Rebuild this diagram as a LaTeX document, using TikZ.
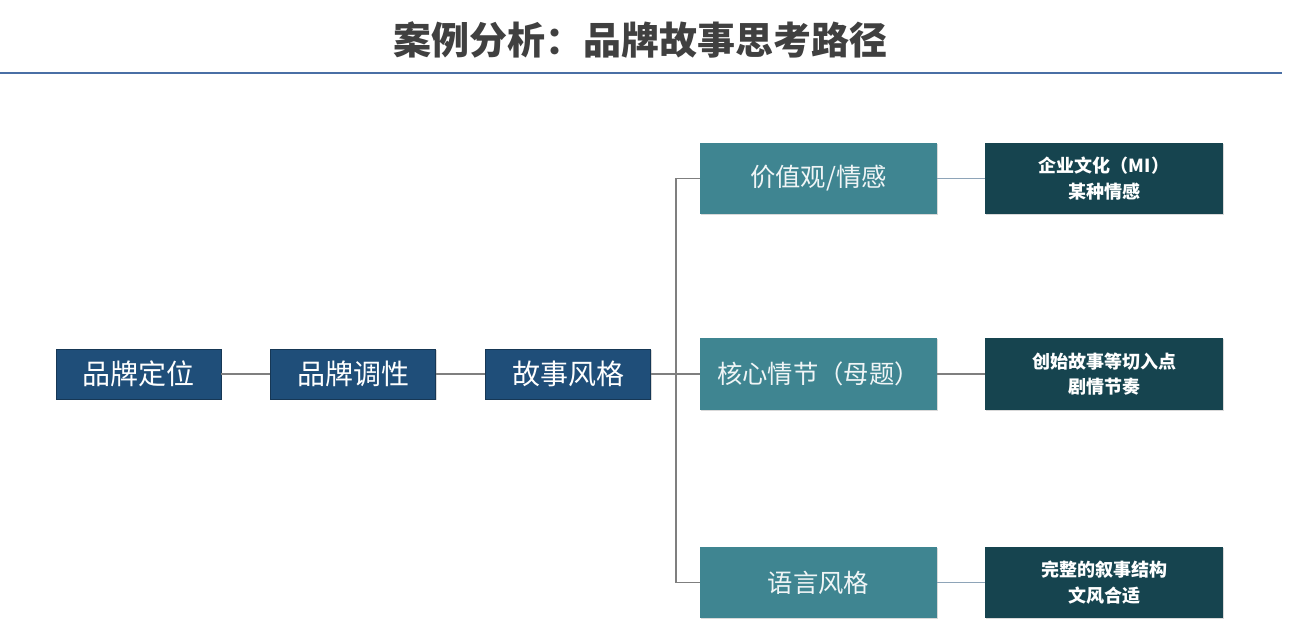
\documentclass[tikz,border=0pt]{standalone}
\usepackage{fontspec}
\setmainfont{Noto Sans CJK SC}
\usetikzlibrary{shadows}
\definecolor{navy}{HTML}{1F4E79}
\definecolor{tealm}{HTML}{3F8591}
\definecolor{tealdk}{HTML}{16444F}
\definecolor{rulec}{HTML}{4A6FA5}
\definecolor{linec}{HTML}{7F7F7F}
\definecolor{linebl}{HTML}{8EA4B8}
\definecolor{titlec}{HTML}{404040}
\tikzset{
  navybox/.style={draw=navy!70!black, line width=0.6pt, fill=navy, text=white, minimum width=123.75pt, minimum height=37.5pt, inner sep=0pt, font=\fontsize{21}{24}\selectfont, drop shadow={shadow xshift=0.8pt, shadow yshift=-0.8pt, opacity=0.3}},
  midbox/.style={fill=tealm, text=white!92!tealm, minimum width=177.75pt, minimum height=53.5pt, inner sep=0pt, font=\fontsize{19}{22}\selectfont, drop shadow={shadow xshift=0.8pt, shadow yshift=-0.8pt, opacity=0.3}},
  rbox/.style={fill=tealdk, text=white, minimum width=178.5pt, minimum height=53.5pt, inner sep=0pt, align=center, font=\bfseries\fontsize{13.5}{19}\selectfont, drop shadow={shadow xshift=0.8pt, shadow yshift=-0.8pt, opacity=0.3}},
  conn/.style={draw=linec, line width=1.1pt},
  connb/.style={draw=linebl, line width=1.1pt}
}
\begin{document}
\begin{tikzpicture}[x=0.75pt,y=-0.75pt]
\useasboundingbox (0,0) rectangle (1290,636);
\node[text=titlec, font=\bfseries\fontsize{28.5}{32}\selectfont] (title) at (640,40) {案例分析：品牌故事思考路径};
\coordinate (rl) at (0,73);
\coordinate (rr) at (1282,73);
\draw[rulec, line width=2.2pt] (rl) -- (rr);

\node[navybox] (a) at (138.5,374) {品牌定位};
\node[navybox] (b) at (353,374) {品牌调性};
\node[navybox] (c) at (568,374) {故事风格};

\node[midbox] (m1) at (818.5,178.5) {价值观/情感};
\node[midbox] (m2) at (818.5,374) {核心情节（母题）};
\node[midbox] (m3) at (818.5,582.5) {语言风格};

\node[rbox] (r1) at (1104,178.5) {企业文化（MI）\\某种情感};
\node[rbox] (r2) at (1104,374) {创始故事等切入点\\剧情节奏};
\node[rbox] (r3) at (1104,582.5) {完整的叙事结构\\文风合适};

\coordinate (v) at (676,374);
\draw[conn] (a) -- (b);
\draw[conn] (b) -- (c);
\draw[conn] (c) -- (m2);
\draw[conn] (m1.west) -- (v |- m1) -- (v |- m3) -- (m3.west);
\draw[connb] (m1) -- (r1);
\draw[conn] (m2) -- (r2);
\draw[connb] (m3) -- (r3);
\end{tikzpicture}
\end{document}
